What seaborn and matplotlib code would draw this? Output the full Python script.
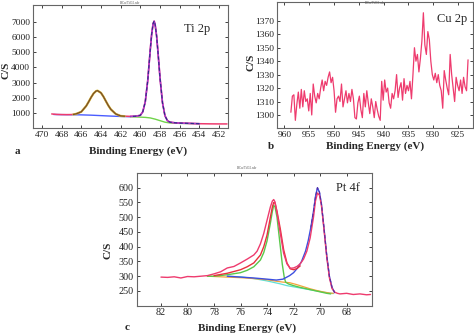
import matplotlib
matplotlib.use("Agg")
import matplotlib.pyplot as plt
import seaborn as sns

# ---------------- Panel a: Ti 2p ----------------
ti_raw_x = [469.0, 468.5, 468.0, 467.5, 467.0, 466.5, 466.0, 465.5, 465.25, 465.0, 464.75, 464.5,
            464.35, 464.0, 463.75, 463.5, 463.25, 463.0, 462.5, 462.0, 461.5, 461.0, 460.5, 460.0,
            459.75, 459.5, 459.25, 459.0, 458.85, 458.7, 458.6, 458.5, 458.35, 458.2, 458.0, 457.75,
            457.5, 457.25, 457.0, 456.5, 456.0, 455.5, 455.0, 454.5, 454.0, 453.0, 452.0, 451.2]
ti_raw_y = [940, 910, 900, 895, 900, 950, 1080, 1460, 1735, 2030, 2285, 2440,
            2470, 2325, 2080, 1780, 1490, 1245, 940, 810, 790, 780, 790, 850,
            1085, 1740, 3130, 5100, 6180, 6880, 7030, 6810, 6060, 4920, 3280, 1670,
            820, 500, 400, 360, 340, 330, 320, 310, 300, 290, 285, 285]
ti_p1_x = [466.8, 466.5, 466.0, 465.5, 465.25, 465.0, 464.75, 464.5, 464.35, 464.0, 463.75,
           463.5, 463.25, 463.0, 462.5, 462.0, 461.6]
ti_p1_y = [905, 950, 1080, 1460, 1735, 2030, 2285, 2440, 2470, 2325, 2080,
           1780, 1490, 1245, 940, 810, 790]
ti_env_x = [461.0, 460.5, 460.0, 459.75, 459.5, 459.25, 459.0, 458.85, 458.7, 458.6, 458.5,
            458.35, 458.2, 458.0, 457.75, 457.5, 457.25, 457.0, 456.5, 456.0, 455.0, 454.0]
ti_env_y = [780, 790, 850, 1085, 1740, 3130, 5100, 6180, 6880, 7030, 6810,
            6060, 4920, 3280, 1670, 820, 500, 400, 360, 340, 320, 300]
ti_bg1_x = [468.8, 468.0, 467.0, 466.0, 465.0, 464.0, 463.0, 462.0, 461.0]
ti_bg1_y = [905, 895, 890, 880, 860, 830, 800, 775, 760]
ti_bg2_x = [461.0, 460.5, 460.0, 459.5, 459.0, 458.5, 458.0, 457.5, 457.0, 456.0, 455.0, 454.0]
ti_bg2_y = [760, 745, 730, 715, 680, 600, 500, 400, 350, 320, 310, 300]

# ---------------- Panel b: Cu 2p ----------------
cu_x = [round(958.7 - 0.3 * i, 2) for i in range(120)]
cu_y = [1302, 1314, 1315, 1296, 1308, 1317, 1305, 1319, 1306, 1318,
        1310, 1312, 1303, 1316, 1300, 1323, 1314, 1309, 1316, 1312,
        1320, 1326, 1318, 1325, 1322, 1328, 1332, 1324, 1328, 1318,
        1302, 1312, 1314, 1310, 1323, 1306, 1312, 1318, 1309, 1316,
        1310, 1319, 1312, 1298, 1297, 1309, 1314, 1304, 1298, 1316,
        1306, 1318, 1309, 1301, 1312, 1306, 1298, 1310, 1304, 1299,
        1296, 1325, 1311, 1326, 1317, 1320, 1309, 1305, 1316, 1312,
        1318, 1330, 1313, 1320, 1324, 1311, 1327, 1316, 1322, 1318,
        1325, 1312, 1330, 1350, 1340, 1345, 1332, 1342, 1355, 1376,
        1352, 1345, 1362, 1356, 1340, 1330, 1326, 1331, 1324, 1330,
        1322, 1318, 1305, 1333, 1326, 1320, 1315, 1345, 1330, 1320,
        1310, 1328, 1322, 1318, 1326, 1316, 1328, 1321, 1318, 1341]

# ---------------- Panel c: Pt 4f ----------------
pt_raw_x = [82.0, 81.5, 81.0, 80.5, 80.0, 79.5, 79.0, 78.5, 78.0, 77.5, 77.0, 76.5, 76.0, 75.5,
            75.0, 74.75, 74.5, 74.25, 74.0, 73.75, 73.6, 73.5, 73.4, 73.25, 73.0, 72.75, 72.5,
            72.25, 72.0, 71.75, 71.5, 71.25, 71.0, 70.75, 70.5, 70.35, 70.2, 70.05, 69.9, 69.7,
            69.5, 69.3, 69.1, 68.9, 68.7, 68.5, 68.0, 67.5, 67.0, 66.5, 66.2]
pt_raw_y = [297, 296, 298, 294, 299, 298, 300, 302, 308, 315, 328, 333, 345, 358,
            372, 385, 410, 445, 490, 535, 555, 560, 552, 515, 445, 378, 342,
            327, 328, 333, 342, 358, 385, 430, 500, 555, 582, 575, 540, 455,
            365, 295, 258, 246, 242, 240, 242, 238, 240, 237, 238]
pt_env_x = [78.0, 77.0, 76.0, 75.5, 75.0, 74.5, 74.25, 74.0, 73.75, 73.6, 73.5, 73.4, 73.25,
            73.0, 72.75, 72.5, 72.25, 72.0, 71.75, 71.5]
pt_env_y = [302, 310, 322, 332, 345, 372, 400, 440, 500, 535, 550, 548, 520,
            460, 390, 345, 325, 322, 326, 335]
pt_p1_x = [78.5, 78.0, 77.0, 76.0, 75.5, 75.0, 74.5, 74.25, 74.0, 73.75, 73.6, 73.5, 73.4,
           73.25, 73.1, 73.0, 72.85, 72.7, 72.6, 72.4, 72.0, 71.5, 71.0, 70.5, 70.0, 69.5, 69.2]
pt_p1_y = [300, 300, 305, 312, 320, 332, 355, 380, 420, 480, 520, 540, 535,
           500, 440, 400, 340, 295, 280, 274, 268, 262, 257, 252, 247, 242, 240]
pt_p2_x = [77.0, 76.0, 75.0, 74.0, 73.3, 72.8, 72.3, 72.0, 71.7, 71.4, 71.1, 70.9, 70.7,
           70.5, 70.35, 70.2, 70.05, 69.9, 69.7, 69.5, 69.3, 69.1, 68.9]
pt_p2_y = [300, 297, 294, 290, 287, 290, 302, 312, 328, 350, 385, 420, 465,
           520, 570, 600, 585, 545, 460, 370, 300, 262, 244]
pt_bgo_x = [78.5, 77.0, 76.0, 75.0, 74.0, 73.3, 72.8, 72.3, 71.8, 71.3, 70.8, 70.3, 69.8, 69.3, 69.0]
pt_bgo_y = [300, 297, 295, 292, 288, 283, 280, 278, 272, 265, 258, 252, 247, 243, 242]
pt_bgc_x = [77.0, 76.0, 75.0, 74.5, 74.0, 73.5, 73.0, 72.5, 72.0, 71.5, 71.0, 70.5, 70.0, 69.5, 69.0]
pt_bgc_y = [300, 298, 292, 288, 284, 279, 274, 268, 264, 260, 256, 252, 248, 244, 241]

ti_xticks = [470, 468, 466, 464, 462, 460, 458, 456, 454, 452]
ti_yticks = [1000, 2000, 3000, 4000, 5000, 6000, 7000]
cu_xticks = [960, 955, 950, 945, 940, 935, 930, 925]
cu_yticks = [1300, 1310, 1320, 1330, 1340, 1350, 1360, 1370]
pt_xticks = [82, 80, 78, 76, 74, 72, 70, 68]
pt_yticks = [250, 300, 350, 400, 450, 500, 550, 600]

sns.set_style("ticks")
plt.rcParams['font.family'] = ['Liberation Serif', 'DejaVu Serif']

W, H = 474, 335
fig = plt.figure(figsize=(W / 100, H / 100), dpi=100)


def axes_px(l, t, r, b):
    return fig.add_axes([l / W, 1 - b / H, (r - l) / W, (b - t) / H])


def line(ax, x, y, color, lw=1.0, ls='-'):
    sns.lineplot(x=x, y=y, ax=ax, color=color, lw=lw, linestyle=ls, legend=False)


def style(ax, fs):
    ax.tick_params(direction='in', top=True, right=True, length=2.5, width=0.6,
                   labelsize=fs, pad=2, colors='#222222')
    for s in ax.spines.values():
        s.set_color('#666666')
        s.set_linewidth(0.8)
    ax.set_xlabel('')
    ax.set_ylabel('')


RAW = '#ee3b6e'

# Panel a
axa = axes_px(33, 5, 228, 128)
line(axa, ti_bg1_x, ti_bg1_y, '#4a5cff', 1.0)
line(axa, ti_bg2_x, ti_bg2_y, '#6fd34a', 1.0)
line(axa, ti_raw_x, ti_raw_y, RAW, 1.1)
line(axa, ti_p1_x, ti_p1_y, '#d4c53a', 1.6)
line(axa, ti_p1_x, ti_p1_y, '#7a4a2a', 0.9)
line(axa, ti_env_x, ti_env_y, '#b038c8', 1.2)
line(axa, ti_env_x, ti_env_y, '#2b2b8a', 0.8, (0, (3, 2)))
axa.set_xlim(470.9, 451.1)
axa.set_ylim(18, 8090)
axa.set_xticks(ti_xticks)
axa.set_yticks(ti_yticks)
style(axa, 6.8)

# Panel b
axb = axes_px(277, 2, 472.5, 128)
line(axb, cu_x, cu_y, RAW, 0.9)
axb.set_xlim(961.5, 922.1)
axb.set_ylim(1290.3, 1384)
axb.set_xticks(cu_xticks)
axb.set_yticks(cu_yticks)
style(axb, 6.8)

# Panel c
axc = axes_px(136.7, 173.3, 371.7, 305.7)
line(axc, pt_bgc_x, pt_bgc_y, '#5de0d8', 0.9)
line(axc, pt_bgo_x, pt_bgo_y, '#f2a43a', 0.9)
line(axc, pt_p1_x, pt_p1_y, '#59c84a', 1.0)
line(axc, pt_p2_x, pt_p2_y, '#3d4fe0', 1.0)
line(axc, pt_env_x, pt_env_y, '#e8303c', 1.0)
line(axc, pt_raw_x, pt_raw_y, RAW, 1.0)
line(axc, pt_p2_x[12:], pt_p2_y[12:], '#5a2aa0', 0.8, (0, (3, 2)))
axc.set_xlim(83.83, 66.11)
axc.set_ylim(200, 649)
axc.set_xticks(pt_xticks)
axc.set_yticks(pt_yticks)
style(axc, 7.3)

# Texts (figure pixel coordinates)
def ftext(x, y, s, **kw):
    fig.text(x / W, 1 - y / H, s, **kw)


ftext(197, 29, 'Ti 2p', fontsize=9, ha='center', va='center')
ftext(452, 19, 'Cu 2p', fontsize=9, ha='center', va='center')
ftext(348, 188, 'Pt 4f', fontsize=9, ha='center', va='center')

ftext(138, 151, 'Binding Energy (eV)', fontsize=8, fontweight='bold', ha='center', va='center')
ftext(375, 146, 'Binding Energy (eV)', fontsize=8, fontweight='bold', ha='center', va='center')
ftext(247, 328, 'Binding Energy (eV)', fontsize=8, fontweight='bold', ha='center', va='center')

ftext(6, 70, 'C/S', fontsize=8, fontweight='bold', rotation=90, ha='center', va='center')
ftext(251, 62, 'C/S', fontsize=8, fontweight='bold', rotation=90, ha='center', va='center')
ftext(108, 250, 'C/S', fontsize=8, fontweight='bold', rotation=90, ha='center', va='center')

ftext(17, 152, 'a', fontsize=8, fontweight='bold', ha='center', va='center')
ftext(271, 146, 'b', fontsize=8, fontweight='bold', ha='center', va='center')
ftext(127, 328, 'c', fontsize=8, fontweight='bold', ha='center', va='center')

ftext(130, 2.5, 'PtCu/TiO2.sdr', fontsize=2.5, ha='center', va='center', color='#555555')
ftext(375, 2.5, 'PtCu/TiO2.sdr', fontsize=2.5, ha='center', va='center', color='#555555')
ftext(247, 168, 'PtCu/TiO2.sdr', fontsize=2.5, ha='center', va='center', color='#555555')

fig.savefig('out.png', dpi=100)
